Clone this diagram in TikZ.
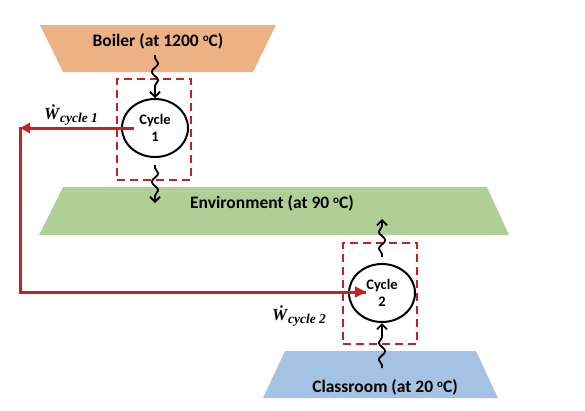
\documentclass[tikz,border=0pt]{standalone}
\usepackage{fontspec}
\setmainfont{Carlito}
\newfontfamily\wfont{Liberation Serif}
\usetikzlibrary{shapes.geometric,arrows.meta,decorations.pathmorphing}
\definecolor{boilerc}{RGB}{236,178,132}
\definecolor{envc}{RGB}{176,207,150}
\definecolor{roomc}{RGB}{164,195,227}
\definecolor{redc}{RGB}{192,36,34}
\tikzset{
  cyc/.style={ellipse,draw=black,line width=2pt,fill=white,minimum width=66pt,minimum height=58pt,inner sep=0pt,align=center,font=\fontsize{14.5}{17}\selectfont\bfseries},
  dashbox/.style={draw=redc,line width=2.2pt,dash pattern=on 8pt off 5pt,minimum width=74pt,minimum height=101pt,inner sep=0pt},
  lbl/.style={font=\fontsize{17.5}{20}\selectfont\bfseries,inner sep=0pt},
  heat/.style={draw=black,line width=1.8pt,-{Straight Barb[length=5pt,width=10pt]},decorate,decoration={snake,amplitude=3.2pt,segment length=17pt,pre length=3pt,post length=6pt}},
  work/.style={draw=redc,line width=3pt},
  wlbl/.style={inner sep=0pt,font=\wfont\bfseries\itshape}
}
\newcommand{\degc}{\raisebox{5pt}{\fontsize{11}{11}\selectfont o}C}
\newcommand{\wlabel}[1]{{\fontsize{17}{19}\selectfont\.W}\kern1pt\raisebox{-3pt}{\fontsize{13.5}{15}\selectfont cycle #1}}
\begin{document}
\begin{tikzpicture}[x=1pt,y=-1pt]
\useasboundingbox (0,0) rectangle (585,410);
% reservoirs
\fill[boilerc] (40,25) -- (276,25) -- (253,72) -- (63,72) -- cycle;
\fill[envc] (63,187) -- (487,187) -- (509,235) -- (39,235) -- cycle;
\fill[roomc] (285,351) -- (476,351) -- (498,398) -- (263,398) -- cycle;
\node[lbl] (boiler) at (158,41) {Boiler (at 1200 \degc)};
\node[lbl] (env) at (272,203) {Environment (at 90 \degc)};
\node[lbl] (room) at (385,387) {Classroom (at 20 \degc)};
% system boundaries
\node[dashbox] (b1) at (154,129.5) {};
\node[dashbox] (b2) at (380,293.5) {};
% cycles
\node[cyc] (c1) at (155,128) {Cycle\\1};
\node[cyc] (c2) at (382,293) {Cycle\\2};
% heat flows
\coordinate (h1s) at (155,55);
\coordinate (h2s) at (155,165);
\coordinate (h2e) at (155,203);
\coordinate (h3s) at (382,257);
\coordinate (h3e) at (382,219);
\coordinate (h4s) at (382,368);
\draw[heat] (h1s) -- (c1.north);
\draw[heat] (h2s) -- (h2e);
\draw[heat] (h3s) -- (h3e);
\draw[heat] (h4s) -- (c2.south);
% work
\coordinate (w1s) at (134,128);
\coordinate (k1) at (20,128);
\coordinate (k1a) at (20,126.5);
\coordinate (k2) at (20,292);
\coordinate (w2e) at (366,292);
\draw[work] (k1a) -- (k2) -- (w2e);
\draw[work,-{Triangle[length=10pt,width=10pt]}] (w1s) -- (k1);
\draw[redc,line width=0.1pt,fill=redc] (w2e) ++(-11,-5.5) -- (w2e) -- ++(-11,5.5) -- cycle;
\node[wlbl] (wl1) at (71,115) {\wlabel{1}};
\node[wlbl] (wl2) at (299,316) {\wlabel{2}};
\end{tikzpicture}
\end{document}
